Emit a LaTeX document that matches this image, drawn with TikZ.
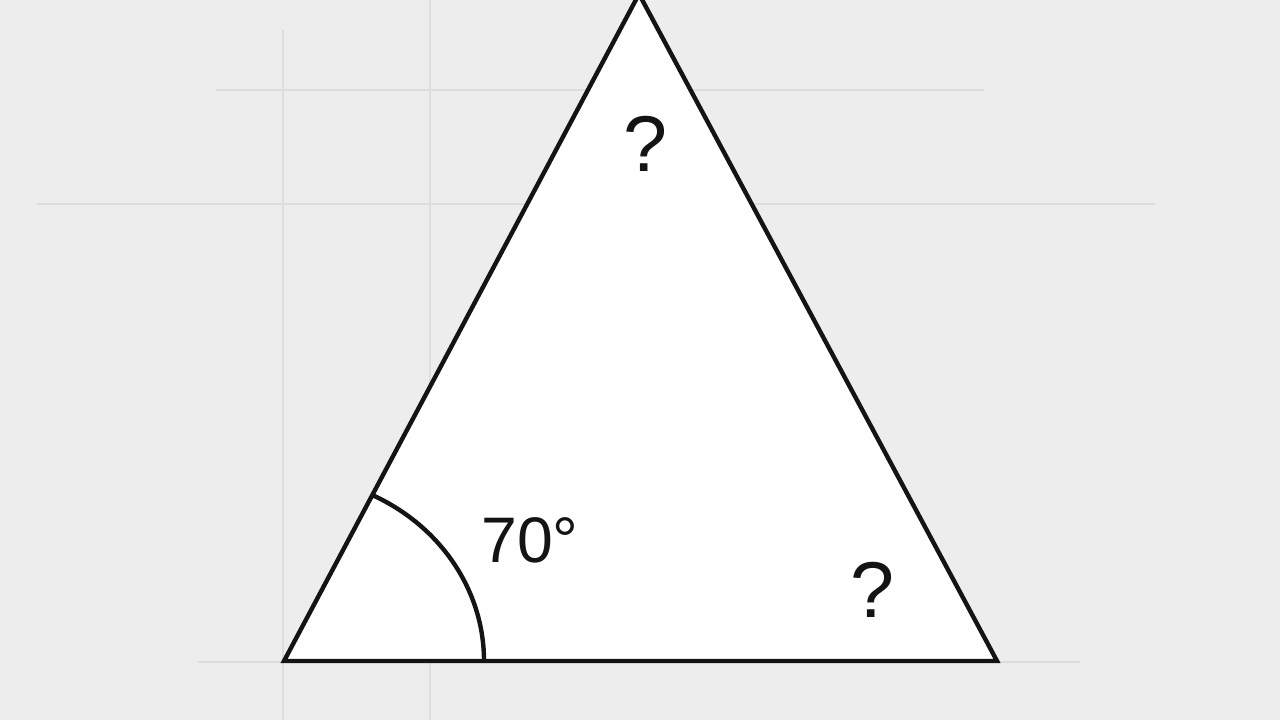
\documentclass[tikz,border=0pt]{standalone}
\usepackage{fontspec}
\setmainfont{Liberation Sans}
\usetikzlibrary{positioning}
\definecolor{paper}{RGB}{237,237,237}
\definecolor{guideline}{RGB}{221,221,221}
\definecolor{ink}{RGB}{20,20,20}

\begin{document}
\begin{tikzpicture}[
						x=0.01cm, y=-0.01cm,
						guide/.style = {draw=guideline, line width=0.6pt},
						edgeline/.style = {draw=ink, line width=1.25pt, line join=miter},
						qmark/.style = {font=\fontsize{22.5}{22.5}\selectfont, text=ink},
						anglelbl/.style = {font=\fontsize{18.3}{18.3}\selectfont, text=ink}
					]
\fill[paper] (0,0) rectangle (1280,720);
\useasboundingbox (0,0) rectangle (1280,720);

% faint guide lines
\draw[guide] (283,30) -- (283,720);
\draw[guide] (430,0) -- (430,720);
\draw[guide] (216,90) -- (984,90);
\draw[guide] (37,204) -- (1155,204);
\draw[guide] (198,662) -- (1080,662);

% triangle
\coordinate (A) at (284,661);
\coordinate (B) at (997,661);
\coordinate (C) at (639,-6);
\filldraw[fill=white, edgeline] (A) -- (B) -- (C) -- cycle;
\draw[edgeline] ([shift={(200,0)}]A) arc[start angle=0, end angle=-63.8, x radius=200, y radius=185];

\node[anglelbl] (a) at (530,540) {70°};
\node[qmark] (c) at (645,144) {?};
\node[qmark] (b) at (872,590) {?};
\end{tikzpicture}
\end{document}
